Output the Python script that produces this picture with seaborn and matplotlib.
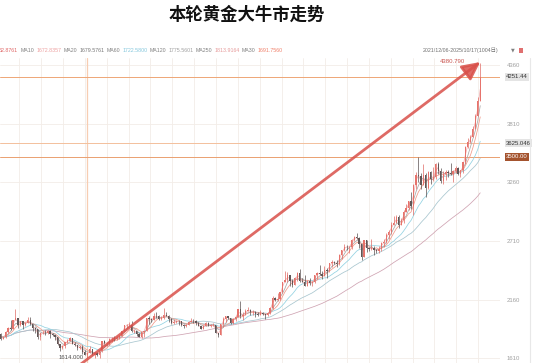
import matplotlib
matplotlib.use("Agg")
import matplotlib.pyplot as plt
import matplotlib.dates as mdates
from matplotlib.lines import Line2D
from matplotlib.patches import Rectangle
import matplotlib.transforms as mtransforms
import numpy as np
import pandas as pd
import seaborn as sns

# weekly gold candles, week of 2021-12-06 .. week of 2025-10-13
opens = [
    1783, 1783, 1798, 1809,
    1829, 1797, 1817, 1835, 1791, 1808, 1859, 1898, 1889, 1970, 1988, 1921, 1958,
    1925, 1946, 1975, 1931, 1896, 1883, 1811, 1846, 1853, 1850, 1871, 1840, 1826,
    1811, 1742, 1708, 1727, 1766, 1775, 1802, 1747, 1737, 1712, 1716, 1675, 1643,
    1660, 1695, 1644, 1657, 1644, 1681, 1771, 1751, 1755, 1797, 1797, 1793, 1798,
    1824, 1865, 1920, 1926, 1928, 1865, 1865, 1842, 1811, 1856, 1868, 1989, 1978,
    1969, 2007, 2004, 1983, 1990, 2017, 2011, 1977, 1946, 1948, 1961, 1958, 1921,
    1919, 1925, 1955, 1962, 1959, 1943, 1914, 1889, 1915, 1940, 1919, 1924, 1925,
    1849, 1833, 1932, 1981, 2006, 1992, 1940, 1981, 2001, 2072, 2004, 2019, 2053,
    2063, 2045, 2049, 2029, 2018, 2039, 2024, 2013, 2035, 2083, 2179, 2155, 2165,
    2230, 2329, 2344, 2391, 2337, 2301, 2360, 2415, 2334, 2327, 2293, 2333, 2322,
    2326, 2392, 2411, 2400, 2387, 2443, 2431, 2507, 2512, 2503, 2497, 2578, 2622, 2658,
    2653, 2657, 2721, 2747, 2736, 2684, 2563, 2716, 2643, 2633, 2648, 2622, 2621,
    2640, 2690, 2703, 2770, 2798, 2861, 2883, 2936, 2858, 2910, 2984, 3023, 3084,
    3037, 3237, 3327, 3319, 3240, 3325, 3203, 3357, 3289, 3310, 3433, 3368, 3274,
    3337, 3355, 3350, 3336, 3363, 3397, 3336, 3372, 3448, 3587, 3643, 3685, 3760,
    3886, 4018,
]
highs = [
    1793, 1815, 1815, 1831,
    1831, 1828, 1848, 1853, 1812, 1865, 1903, 1974, 1973, 2070, 1988, 1966, 1960,
    1949, 1998, 1998, 1936, 1909, 1883, 1849, 1869, 1874, 1875, 1879, 1847, 1830,
    1813, 1745, 1740, 1767, 1788, 1807, 1802, 1765, 1741, 1735, 1735, 1688, 1672,
    1730, 1697, 1670, 1675, 1682, 1775, 1787, 1760, 1804, 1810, 1824, 1823, 1833,
    1865, 1922, 1936, 1949, 1959, 1890, 1870, 1847, 1858, 1871, 1990, 2010, 1985,
    2032, 2048, 2015, 2009, 2079, 2048, 2022, 1985, 1983, 1973, 1971, 1962, 1933,
    1935, 1963, 1987, 1982, 1970, 1948, 1917, 1922, 1953, 1953, 1930, 1947, 1925,
    1853, 1933, 1997, 2009, 2010, 1993, 1993, 2007, 2075, 2146, 2047, 2071, 2088,
    2078, 2062, 2057, 2041, 2065, 2044, 2031, 2041, 2088, 2195, 2185, 2223, 2236,
    2330, 2431, 2417, 2392, 2352, 2378, 2422, 2450, 2364, 2388, 2342, 2368, 2340,
    2392, 2424, 2483, 2432, 2477, 2461, 2509, 2531, 2528, 2529, 2586, 2625, 2685, 2672,
    2665, 2725, 2758, 2790, 2750, 2687, 2721, 2721, 2657, 2726, 2664, 2639, 2665,
    2697, 2726, 2786, 2817, 2886, 2942, 2955, 2956, 2930, 3005, 3057, 3087, 3167,
    3245, 3357, 3500, 3350, 3435, 3345, 3366, 3365, 3403, 3446, 3452, 3398, 3365,
    3375, 3377, 3438, 3380, 3409, 3401, 3379, 3453, 3600, 3674, 3707, 3791, 3897,
    4059, 4379,
]
lows = [
    1770, 1753, 1782, 1789,
    1782, 1790, 1812, 1780, 1788, 1806, 1850, 1878, 1888, 1967, 1895, 1910, 1890,
    1915, 1941, 1928, 1872, 1850, 1797, 1786, 1843, 1828, 1836, 1805, 1822, 1784,
    1732, 1681, 1698, 1711, 1754, 1771, 1745, 1727, 1688, 1699, 1654, 1639, 1614,
    1660, 1642, 1617, 1638, 1617, 1670, 1749, 1727, 1741, 1765, 1773, 1785, 1797,
    1824, 1865, 1896, 1917, 1861, 1852, 1819, 1809, 1805, 1809, 1868, 1934, 1949,
    1969, 1992, 1969, 1974, 1976, 2008, 1952, 1936, 1932, 1940, 1925, 1910, 1893,
    1902, 1921, 1951, 1942, 1925, 1910, 1885, 1885, 1913, 1915, 1901, 1914, 1846,
    1810, 1833, 1908, 1954, 1980, 1932, 1931, 1965, 2001, 1993, 1973, 2016, 2053,
    2016, 2013, 2001, 2010, 2016, 2015, 1984, 2011, 2024, 2078, 2146, 2146, 2162,
    2228, 2325, 2324, 2291, 2277, 2298, 2336, 2325, 2324, 2287, 2287, 2296, 2293,
    2318, 2351, 2393, 2353, 2383, 2364, 2424, 2470, 2493, 2471, 2485, 2546, 2617, 2625,
    2603, 2639, 2708, 2725, 2643, 2536, 2563, 2605, 2613, 2626, 2583, 2603, 2596,
    2615, 2656, 2695, 2730, 2772, 2860, 2882, 2833, 2857, 2880, 2982, 3000, 3015,
    2957, 3195, 3260, 3202, 3237, 3120, 3200, 3245, 3271, 3294, 3340, 3255, 3247,
    3283, 3310, 3325, 3268, 3350, 3330, 3311, 3352, 3436, 3584, 3628, 3683, 3759,
    3885, 4018,
]
closes = [
    1783, 1798, 1809, 1829,
    1797, 1817, 1835, 1791, 1808, 1859, 1898, 1889, 1970, 1988, 1921, 1958, 1925,
    1946, 1975, 1931, 1896, 1883, 1811, 1846, 1853, 1850, 1871, 1840, 1826, 1811,
    1742, 1708, 1727, 1766, 1775, 1802, 1747, 1737, 1712, 1716, 1675, 1643, 1660,
    1695, 1644, 1657, 1644, 1681, 1771, 1751, 1755, 1797, 1797, 1793, 1798, 1824,
    1865, 1920, 1926, 1928, 1865, 1865, 1842, 1811, 1856, 1868, 1989, 1978, 1969,
    2007, 2004, 1983, 1990, 2017, 2011, 1977, 1946, 1948, 1961, 1958, 1921, 1919,
    1925, 1955, 1962, 1959, 1943, 1914, 1889, 1915, 1940, 1919, 1924, 1925, 1849,
    1833, 1932, 1981, 2006, 1992, 1940, 1981, 2001, 2072, 2004, 2019, 2053, 2063,
    2045, 2049, 2029, 2018, 2039, 2024, 2013, 2035, 2083, 2179, 2155, 2165, 2230,
    2329, 2344, 2391, 2337, 2301, 2360, 2415, 2334, 2327, 2293, 2333, 2322, 2326,
    2392, 2411, 2400, 2387, 2443, 2431, 2507, 2512, 2503, 2497, 2578, 2622, 2658, 2653,
    2657, 2721, 2747, 2736, 2684, 2563, 2716, 2643, 2633, 2648, 2622, 2621, 2640,
    2690, 2703, 2770, 2798, 2861, 2883, 2936, 2858, 2910, 2984, 3023, 3084, 3037,
    3237, 3327, 3319, 3240, 3325, 3203, 3357, 3289, 3310, 3433, 3368, 3274, 3337,
    3355, 3350, 3336, 3363, 3397, 3336, 3372, 3448, 3587, 3643, 3685, 3760, 3886,
    4018, 4251,
]
first_week = "2021-12-08"

ma_names = ["MA250", "MA120", "MA60", "MA30", "MA20", "MA10"]
ma_weeks = [50, 24, 12, 6, 4, 2]

header_names = ["", "MA10", "MA20", "MA60", "MA120", "MA250", "MA30"]
header_values = ["52.8761", "1672.8357", "1679.5761", "1722.5800", "1775.5601", "1813.9164", "1691.7560"]
date_range_label = "2021/12/06-2025/10/17(1004日)"

price_ticks = [1610, 2160, 2710, 3260, 3810, 4360]
low_date, low_price = "2022-09-28", 1614.000
peak_date, peak_price = "2025-10-15", 4380.790
level_lines = [4251.44, 3625.046, 3500.00]
level_labels = ["4251.44", "3625.046", "3500.00"]

W, H = 541, 363
sns.set_theme(style="white")
plt.rcParams["font.family"] = ["Liberation Sans", "DejaVu Sans", "Noto Sans CJK SC"]

fig = plt.figure(figsize=(W / 100, H / 100), dpi=100)
fig.patch.set_facecolor("white")
ax = fig.add_axes([0, 0, 500 / W, 305 / H])
ax.set_facecolor("white")

dates = pd.date_range(first_week, periods=len(closes), freq="7D")
xs = mdates.date2num(dates)
o, hi, lo, c = map(np.array, (opens, highs, lows, closes))

# px -> days scale
k = 2.774
x_low = mdates.date2num(pd.Timestamp(low_date))
x0 = x_low - 89 * k
ax.set_xlim(x0, x0 + 500 * k)
ax.set_ylim(1567.8, 4425.5)

# grid
ax.set_xticks([x0 + (19.8 + 22.3 * j) * k for j in range(23)])
ax.set_yticks(price_ticks)
ax.grid(True, color="#f3ede8", lw=0.6)
ax.tick_params(axis="x", length=0, labelbottom=False)
ax.tick_params(axis="y", left=False, labelleft=False, right=False, labelright=True,
               length=0, pad=5, labelsize=4.3, labelcolor="#a0a0a0")
for s in ax.spines.values():
    s.set_visible(False)

# level lines and cursor line
ax.axvline(x_low, color="#f7cdb2", lw=0.9, zorder=1)
for lv, col in zip(level_lines, ["#eea676", "#f3c09c", "#eaa070"]):
    ax.axhline(lv, color=col, lw=0.7, zorder=1)

# moving averages
df = pd.DataFrame({"x": xs, "close": c})
ma_frames = []
for name, w in zip(ma_names, ma_weeks):
    ma_frames.append(pd.DataFrame({"x": xs, "value": df["close"].rolling(w, min_periods=1).mean(), "ma": name}))
ma_long = pd.concat(ma_frames)
ma_colors = {"MA250": "#cfa3b2", "MA120": "#a8c6cf", "MA60": "#92d2e2",
             "MA30": "#f09a8a", "MA20": "#a8a8a8", "MA10": "#f2b0b0"}
sns.lineplot(data=ma_long, x="x", y="value", hue="ma", palette=ma_colors,
             lw=0.55, legend=False, ax=ax, zorder=2)

# candles
up = c >= o
ax.vlines(xs[up], lo[up], hi[up], color="#e06a64", lw=0.5, zorder=3)
ax.vlines(xs[~up], lo[~up], hi[~up], color="#5a5050", lw=0.5, zorder=3)
ax.bar(xs[up], (c - o)[up], bottom=o[up], width=3.5, color="#e6736c", lw=0, zorder=3)
ax.bar(xs[~up], (o - c)[~up], bottom=c[~up], width=3.5, color="#615656", lw=0, zorder=3)
ax.set_xlabel("")
ax.set_ylabel("")

# arrow from the low to the peak
x_peak = mdates.date2num(pd.Timestamp(peak_date))
ax.annotate("", xy=(x_peak, 4388), xytext=(x0 + 80 * k, 1540),
            arrowprops=dict(arrowstyle="-|>,head_length=0.9,head_width=0.45",
                            color="#d9504a", lw=2.0, alpha=0.85, shrinkA=0, shrinkB=0),
            annotation_clip=False, zorder=5)
ax.text(x_peak - 15 * k, 4395, f"{peak_price:.3f}", color="#c9544e", fontsize=4.3,
        ha="right", va="center", zorder=6)
ax.text(x_low - 4 * k, 1622, f"{low_price:.3f}", color="#505050", fontsize=4.3,
        ha="right", va="center", zorder=6)

# price boxes on the right
trans = mtransforms.blended_transform_factory(ax.transAxes, ax.transData)
box_style = [("#e4e4e4", "#333333"), ("#e4e4e4", "#333333"), ("#a4532e", "white")]
for lv, lab, (fc, tc) in zip(level_lines, level_labels, box_style):
    ax.text(1.012, lv, lab, transform=trans, fontsize=4.3, color=tc, ha="left", va="center",
            bbox=dict(boxstyle="square,pad=0.25", fc=fc, ec="none"), clip_on=False, zorder=6)

fig.add_artist(Line2D([530 / W, 530 / W], [0, 305 / H], color="#e8e8e8", lw=0.8))

# title
fig.text(247 / W, 1 - 15 / H, "本轮黄金大牛市走势", ha="center", va="center",
         fontsize=12.5, fontweight="bold", family=["Noto Sans CJK SC"], color="#111111")

# header row with MA values
fig.canvas.draw()
r = fig.canvas.get_renderer()
value_colors = ["#e06666", "#eda0a0", "#777777", "#82c6dc", "#a0a0a0", "#e69a9a", "#f0806a"]
xp = -1.0
for name, val, vc in zip(header_names, header_values, value_colors):
    if name:
        t = fig.text(xp / W, 1 - 50 / H, name, color="#808080", fontsize=3.8, va="center", ha="left")
        xp = t.get_window_extent(renderer=r).x1 + 2.2
    t = fig.text(xp / W, 1 - 50 / H, val, color=vc, fontsize=3.8, va="center", ha="left")
    xp = t.get_window_extent(renderer=r).x1 + 2.2

fig.text(423 / W, 1 - 50 / H, date_range_label, color="#707070", fontsize=3.8, va="center", ha="left",
         family=["Liberation Sans", "Noto Sans CJK SC"])
fig.text(511 / W, 1 - 50 / H, "▼", color="#808080", fontsize=3.5, va="center", ha="left",
         family=["DejaVu Sans"])
fig.add_artist(Rectangle((519 / W, 1 - 53 / H), 4 / W, 5 / H, color="#e07070", lw=0))

fig.savefig("out.png", dpi=100, facecolor="white")
